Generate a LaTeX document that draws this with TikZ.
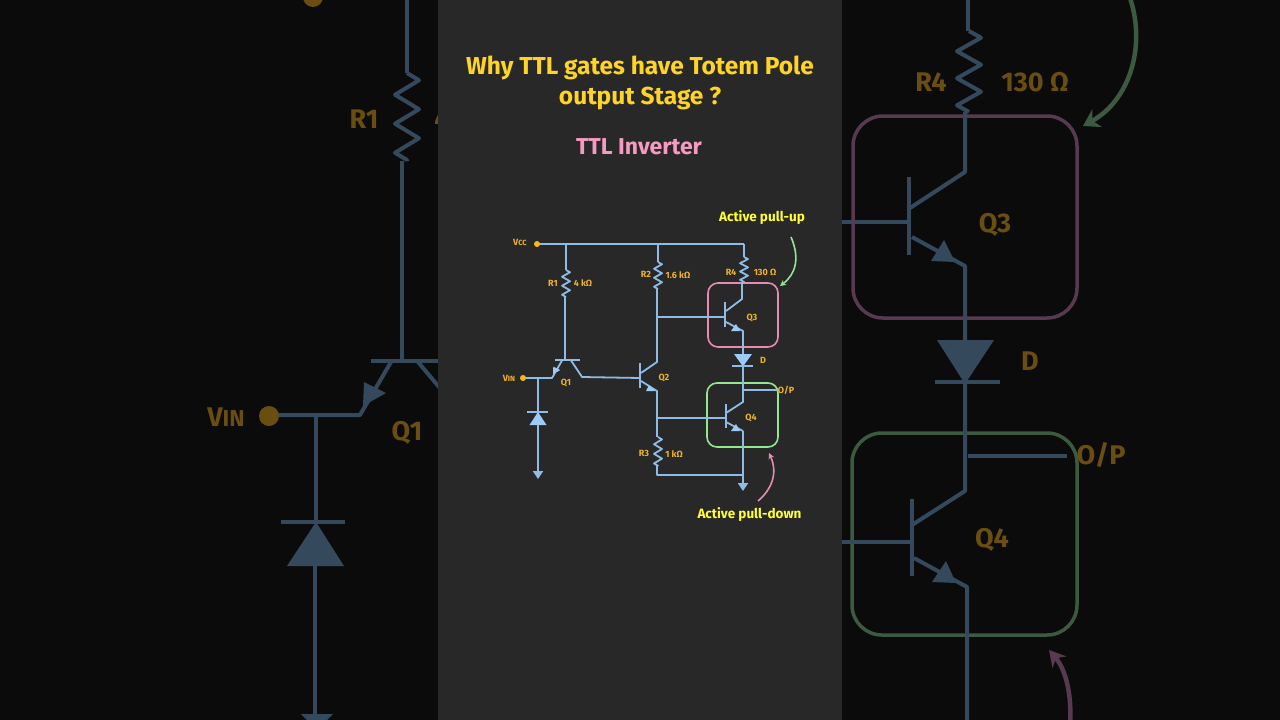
\documentclass[tikz,border=0pt]{standalone}
\usepackage{fontspec}
\setmainfont{Fira Sans}
\usetikzlibrary{arrows.meta,decorations.pathmorphing}
\definecolor{bgdark}{HTML}{0B0B0B}
\definecolor{panel}{HTML}{282828}
\definecolor{wire}{HTML}{8FBCE6}
\definecolor{wirefill}{HTML}{9CCBF7}
\definecolor{gold}{HTML}{EFB32B}
\definecolor{dotgold}{HTML}{FDB913}
\definecolor{titleY}{HTML}{FFD426}
\definecolor{activeY}{HTML}{FFFF33}
\definecolor{pinkt}{HTML}{F59AC0}
\definecolor{pinkbox}{HTML}{E68CB4}
\definecolor{greenbox}{HTML}{93E88F}
\definecolor{dimwire}{HTML}{34495C}
\definecolor{dimgold}{HTML}{6A4D10}
\definecolor{dimpink}{HTML}{573A50}
\definecolor{dimgreen}{HTML}{3B5A40}
\tikzset{
  x=1pt,y=-1pt,
  wireline/.style={draw=wire,line width=1.8pt,line join=round},
  fillhead/.style={fill=wirefill,draw=none},
  lab/.style={text=gold,font=\fontsize{9}{10}\selectfont\bfseries,inner sep=0pt},
  dimwireline/.style={draw=dimwire,line width=4pt,line join=round},
  dimhead/.style={fill=dimwire,draw=none},
  dimlab/.style={text=dimgold,font=\fontsize{27}{30}\selectfont\bfseries,inner sep=0pt},
  titletext/.style={text=titleY,font=\fontsize{24.5}{28}\selectfont\bfseries,inner sep=0pt},
  activetext/.style={text=activeY,font=\fontsize{13.5}{16}\selectfont\bfseries,inner sep=0pt},
  groundtip/.style={-{Triangle[length=8pt,width=10pt]}},
  resist/.style={decorate,decoration={zigzag,segment length=#1,amplitude=4pt}},
  dimresist/.style={decorate,decoration={zigzag,segment length=#1,amplitude=12pt}},
}
\begin{document}
\begin{tikzpicture}
\useasboundingbox (0,0) rectangle (1280,720);
\fill[bgdark] (0,0) rectangle (1280,720);
%% dim enlarged panels
\begin{scope}
\clip (0,0) rectangle (1280,720);
% left
\draw[dimwireline] (407,0) -- (407,73);
\draw[dimwireline,dimresist=29pt] (407,73) -- (407,161);
\draw[dimwireline] (402,161) -- (402,361);
\draw[dimwireline] (371,361) -- (470,361);
\draw[dimwireline] (391,362) -- (360,415) -- (269,415);
\fill[dimhead] (364,382) -- (386,393) -- (363,406) -- cycle;
\draw[dimwireline] (418,362) -- (450,400);
\fill[dimgold] (269,416) circle (10);
\draw[dimwireline] (316,415) -- (316,522);
\draw[dimwireline] (281,522) -- (345,522);
\fill[dimhead] (316,522) -- (344,566) -- (287,566) -- cycle;
\draw[dimwireline] (315,566) -- (315,720);
\fill[dimhead] (301,714) -- (333,714) -- (317,730) -- cycle;
\fill[dimgold] (313,-3) circle (10);
\node[dimlab] (dimrone) at (364,119) {R1};
\node[dimlab] (dimfour) at (442,119) {4};
\node[dimlab] (dimvin) at (226,417) {V\fontsize{23}{24}\selectfont IN};
\node[dimlab] (dimqone) at (407,433) {Q1};
% right
\draw[dimwireline] (968,0) -- (968,31);
\draw[dimwireline,dimresist=27pt] (969,31) -- (969,112);
\draw[dimwireline] (965,112) -- (965,172) -- (910,208);
\draw[dimwireline] (909,177) -- (909,255);
\draw[dimwireline] (842,222) -- (909,222);
\draw[dimwireline] (912,237) -- (965,266) -- (965,340);
\fill[dimhead] (944,240) -- (955,262) -- (931,261) -- cycle;
\draw[dimpink,line width=3.5pt,rounded corners=30pt] (853,116) rectangle (1077,318);
\draw[dimgreen,line width=3.5pt,rounded corners=30pt] (852,433) rectangle (1077,635);
\draw[dimwireline] (965,112) -- (965,172);
\draw[dimwireline] (965,266) -- (965,340);
\fill[dimhead] (937,340) -- (994,340) -- (965,384) -- cycle;
\draw[dimwireline] (935,382) -- (1000,382);
\draw[dimwireline] (965,382) -- (965,491) -- (912,525);
\draw[dimwireline] (968,456) -- (1067,456);
\draw[dimwireline] (912,499) -- (912,576);
\draw[dimwireline] (842,542) -- (912,542);
\draw[dimwireline] (914,558) -- (967,587) -- (967,720);
\fill[dimhead] (946,561) -- (956,583) -- (932,582) -- cycle;
\draw[dimgreen,line width=4.5pt,-{Stealth[length=16pt,width=20pt]}] (1129,-5) .. controls (1147,45) and (1130,100) .. (1083,126);
\draw[dimpink,line width=4.5pt,-{Stealth[length=16pt,width=18pt]}] (1070,725) .. controls (1072,695) and (1066,670) .. (1049,650);
\node[dimlab] (dimrfour) at (931,82) {R4};
\node[dimlab] (dimohm) at (1035,82) {130 Ω};
\node[dimlab] (dimqthree) at (995,225) {Q3};
\node[dimlab] (dimd) at (1030,361) {D};
\node[dimlab] (dimop) at (1101,455) {O/P};
\node[dimlab] (dimqfour) at (992,540) {Q4};
\end{scope}
%% central panel
\fill[panel] (438,0) rectangle (842,720);
%% titles
\node[titletext] (t1) at (640,68) {Why TTL gates have Totem Pole};
\node[titletext] (t2) at (640,98.5) {output Stage ?};
\node[text=pinkt,font=\fontsize{23}{26}\selectfont\bfseries,inner sep=0pt] (t3) at (639,147) {TTL Inverter};
\node[activetext] (aup) at (762,218) {Active pull-up};
\node[activetext] (adn) at (749.5,515) {Active pull-down};
%% key points
\coordinate (vcc) at (537,244);
\coordinate (vccR1) at (566,244);
\coordinate (vccR2) at (658,244);
\coordinate (vccR4) at (744,244);
\coordinate (r1t) at (566,270);
\coordinate (r1b) at (566,297);
\coordinate (r1w) at (565,297);
\coordinate (q1c) at (565,360);
\coordinate (q1bl) at (555,360);
\coordinate (q1br) at (580,360);
\coordinate (q1e) at (562,360.5);
\coordinate (q1ek) at (552,378);
\coordinate (vin) at (523,378);
\coordinate (dj) at (538,378);
\coordinate (d1) at (538,412);
\coordinate (d1b) at (538,425);
\coordinate (gnd1) at (538,479);
\coordinate (q1cs) at (571,360.5);
\coordinate (q1ck) at (582,377);
\coordinate (q2b) at (640,378);
\coordinate (q2bt) at (640,363);
\coordinate (q2bb) at (640,388);
\coordinate (q2cs) at (641,373);
\coordinate (q2ck) at (657,362);
\coordinate (r2t) at (658,262);
\coordinate (r2b) at (658,289);
\coordinate (r2w) at (657,289);
\coordinate (j3) at (657,317);
\coordinate (q3b) at (725,317);
\coordinate (q3bt) at (725,302);
\coordinate (q3bb) at (725,327);
\coordinate (r4t) at (744,257);
\coordinate (r4b) at (744,282);
\coordinate (r4w) at (742,282);
\coordinate (q3ck) at (742,299);
\coordinate (q3cs) at (726,311);
\coordinate (q3es) at (726,322);
\coordinate (q3ek) at (743,331);
\coordinate (dm) at (743,354);
\coordinate (dk) at (743,366);
\coordinate (q4ck) at (743,402);
\coordinate (q4cs) at (726,413);
\coordinate (opj) at (743,390);
\coordinate (ope) at (778,390);
\coordinate (q4bt) at (726,404);
\coordinate (q4bb) at (726,428);
\coordinate (q4b) at (726,418);
\coordinate (j4) at (657,418);
\coordinate (q2es) at (641,381);
\coordinate (q2ek) at (657,391);
\coordinate (r3t) at (658,437);
\coordinate (r3b) at (658,466);
\coordinate (r3w) at (657,466);
\coordinate (r3e) at (657,475);
\coordinate (gj) at (743,475);
\coordinate (q4es) at (726,422);
\coordinate (q4ek) at (743,431);
\coordinate (gnd2) at (743,491);
%% boxes
\draw[pinkbox,line width=1.6pt,rounded corners=10pt] (708,283) rectangle (778,347);
\draw[greenbox,line width=1.6pt,rounded corners=10pt] (707,383) rectangle (778,447);
%% wires
\draw[wireline] (vcc) -- (vccR4);
\draw[wireline] (vccR1) -- (r1t);
\draw[wireline,resist=9pt] (r1t) -- (r1b);
\draw[wireline] (r1w) -- (q1c);
\draw[wireline] (q1bl) -- (q1br);
\draw[wireline] (q1e) -- (q1ek) -- (vin);
\fill[fillhead] (553.3,366.6) -- (560.2,370.1) -- (553,374.2) -- cycle;
\draw[wireline] (dj) -- (d1);
\draw[wireline] (527,412) -- (548,412);
\fill[fillhead] (d1) -- (546.5,425) -- (529.5,425) -- cycle;
\draw[wireline,groundtip] (d1b) -- (gnd1);
\draw[wireline] (q1cs) -- (q1ck) -- (q2b);
\draw[wireline] (q2bt) -- (q2bb);
\draw[wireline] (q2cs) -- (q2ck) -- (r2w);
\draw[wireline] (vccR2) -- (r2t);
\draw[wireline,resist=9pt] (r2t) -- (r2b);
\draw[wireline] (j3) -- (q3b);
\draw[wireline] (q3bt) -- (q3bb);
\draw[wireline] (vccR4) -- (r4t);
\draw[wireline,resist=8.3pt] (r4t) -- (r4b);
\draw[wireline] (r4w) -- (q3ck) -- (q3cs);
\draw[wireline] (q3es) -- (q3ek) -- (dm);
\fill[fillhead] (736,324) -- (740,331) -- (731,331) -- cycle;
\fill[fillhead] (734,354) -- (752,354) -- (743,366.5) -- cycle;
\draw[wireline] (732,366) -- (753,366);
\draw[wireline] (dk) -- (q4ck) -- (q4cs);
\draw[wireline] (opj) -- (ope);
\draw[wireline] (q4bt) -- (q4bb);
\draw[wireline] (j4) -- (q4b);
\draw[wireline] (q2es) -- (q2ek) -- (j4);
\draw[wireline] (j4) -- (r3w |- r3t);
\draw[wireline,resist=9.6pt] (r3t) -- (r3b);
\draw[wireline] (r3w) -- (r3e) -- (gj);
\fill[fillhead] (649,385) -- (655,391) -- (646,391) -- cycle;
\draw[wireline] (q4es) -- (q4ek);
\draw[wireline,groundtip] (q4ek) -- (gnd2);
\fill[fillhead] (736,424) -- (740,431) -- (731,431) -- cycle;
%% dots
\fill[dotgold] (vcc) circle (3);
\fill[dotgold] (vin) circle (3);
%% curved arrows
\draw[greenbox,line width=1.6pt,-{Stealth[length=6pt,width=6pt]}] (791,237) .. controls (800,258) and (796,274) .. (780,286);
\draw[pinkbox,line width=1.6pt,-{Stealth[length=6pt,width=6pt]}] (758,501) .. controls (772,489) and (778,473) .. (769,453);
%% labels
\node[lab] (lvcc) at (520,242.5) {V\fontsize{7.5}{8}\selectfont CC};
\node[lab] (lvin) at (509,378.5) {V\fontsize{7.5}{8}\selectfont IN};
\node[lab] (lr1) at (553,283.5) {R1};
\node[lab] (lr1v) at (583,283.5) {4 kΩ};
\node[lab] (lr2) at (646,274.5) {R2};
\node[lab] (lr2v) at (678,275) {1.6 kΩ};
\node[lab] (lr4) at (731,272) {R4};
\node[lab] (lr4v) at (765,272) {130 Ω};
\node[lab] (lq3) at (752,317.5) {Q3};
\node[lab] (ld) at (763,360.5) {D};
\node[lab] (lop) at (786,390) {O/P};
\node[lab] (lq4) at (751,417.5) {Q4};
\node[lab] (lq2) at (664,377.5) {Q2};
\node[lab] (lq1) at (566,383) {Q1};
\node[lab] (lr3) at (644,453) {R3};
\node[lab] (lr3v) at (674,454) {1 kΩ};
\end{tikzpicture}
\end{document}
